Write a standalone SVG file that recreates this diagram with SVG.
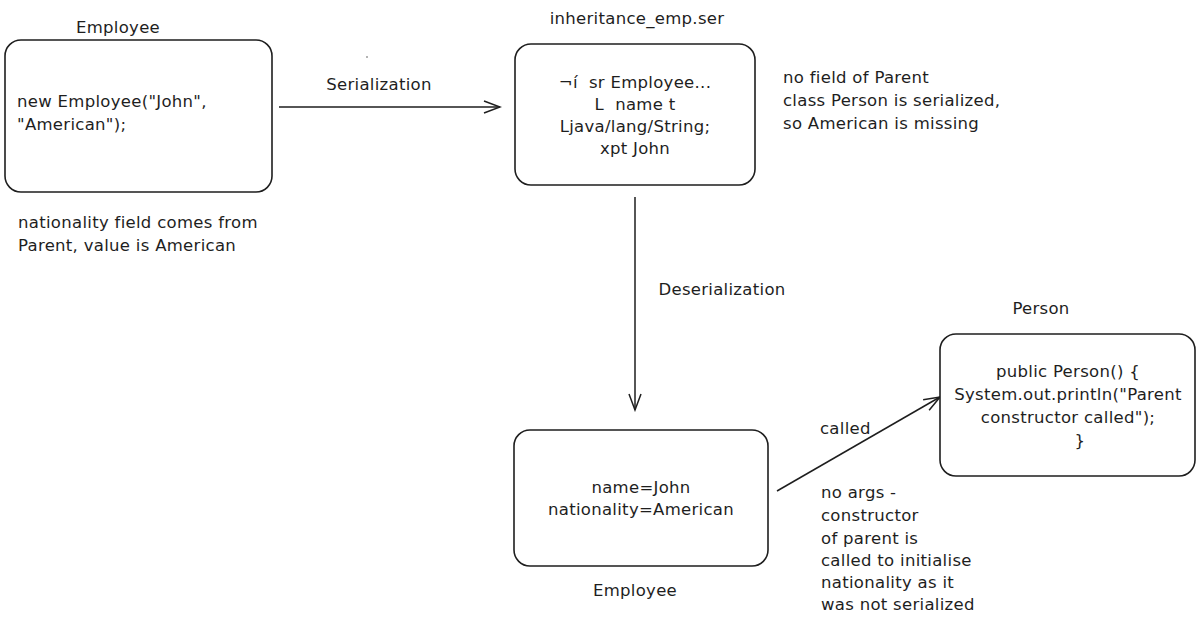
<svg xmlns="http://www.w3.org/2000/svg" width="1200" height="620" viewBox="0 0 1200 620">
<defs>
<style>
.box{fill:#fff;stroke:#1e1e1e;stroke-width:1.6}
.t{font-family:"DejaVu Sans","Liberation Sans",sans-serif;font-size:16.5px;letter-spacing:0.3px;fill:#1e1e1e}
.c{text-anchor:middle}
.ln{stroke:#1e1e1e;stroke-width:1.5;fill:none}
</style>
<marker id="arr" viewBox="0 0 20 20" refX="18" refY="10" markerWidth="20" markerHeight="20" markerUnits="userSpaceOnUse" orient="auto">
<path d="M2,4 L18,10 L2,16" fill="none" stroke="#1e1e1e" stroke-width="1.5"/>
</marker>
</defs>
<rect width="1200" height="620" fill="#fff"/>
<g id="connectors">
<line class="ln" x1="279" y1="107" x2="500" y2="107" marker-end="url(#arr)"/>
<line class="ln" x1="635" y1="197" x2="635" y2="410" marker-end="url(#arr)"/>
<line class="ln" x1="777" y1="491" x2="940" y2="397" marker-end="url(#arr)"/>
<text class="t c" x="379" y="90">Serialization</text>
<text class="t c" x="722" y="295">Deserialization</text>
<text class="t" x="820" y="434">called</text>
</g>
<circle cx="367" cy="57" r="0.8" fill="#555"/>
<g id="employee-source">
<text class="t c" x="118" y="33">Employee</text>
<rect class="box" x="5" y="40" width="267" height="152" rx="16"/>
<text class="t" x="17" y="107">new Employee("John",</text>
<text class="t" x="17" y="130">"American");</text>
<text class="t" x="18" y="228">nationality field comes from</text>
<text class="t" x="18" y="251">Parent, value is American</text>
</g>
<g id="ser-file">
<text class="t c" x="637" y="24">inheritance_emp.ser</text>
<rect class="box" x="515" y="44" width="240" height="141" rx="16"/>
<text class="t c" x="635" y="88">¬í&#160; sr Employee...</text>
<text class="t c" x="635" y="110">L&#160; name t</text>
<text class="t c" x="635" y="132">Ljava/lang/String;</text>
<text class="t c" x="635" y="154">xpt John</text>
<text class="t" x="783" y="83">no field of Parent</text>
<text class="t" x="783" y="106">class Person is serialized,</text>
<text class="t" x="783" y="129">so American is missing</text>
</g>
<g id="employee-result">
<rect class="box" x="514" y="430" width="254" height="136" rx="16"/>
<text class="t c" x="641" y="493">name=John</text>
<text class="t c" x="641" y="515">nationality=American</text>
<text class="t c" x="635" y="596">Employee</text>
</g>
<g id="person">
<text class="t c" x="1041" y="314">Person</text>
<rect class="box" x="940" y="334" width="255" height="142" rx="16"/>
<text class="t c" x="1068" y="377">public Person() {</text>
<text class="t c" x="1068" y="400">System.out.println("Parent</text>
<text class="t c" x="1068" y="423">constructor called");</text>
<text class="t c" x="1080" y="446">}</text>
</g>
<g id="note-noargs">
<text class="t" x="821" y="498">no args -</text>
<text class="t" x="821" y="521">constructor</text>
<text class="t" x="821" y="544">of parent is</text>
<text class="t" x="821" y="566">called to initialise</text>
<text class="t" x="821" y="588">nationality as it</text>
<text class="t" x="821" y="610">was not serialized</text>
</g>
</svg>
